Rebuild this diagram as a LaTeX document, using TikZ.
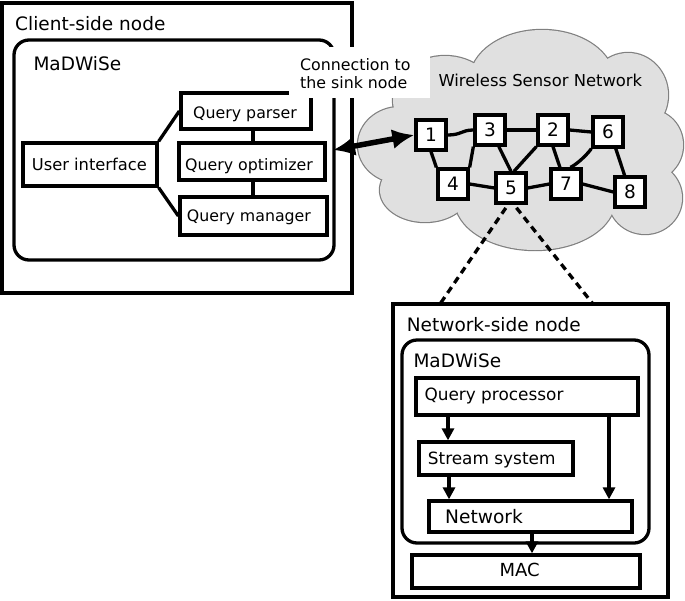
\documentclass[tikz,border=0pt]{standalone}
\usepackage{fontspec}
\setmainfont{DejaVu Sans}
\usetikzlibrary{arrows.meta}
\newcommand\fonthd{\fontsize{18.5}{22}\selectfont}
\newcommand\fontbx{\fontsize{15.8}{19}\selectfont}
\newcommand\fontui{\fontsize{16.3}{19}\selectfont}
\newcommand\fontnb{\fontsize{16.9}{20}\selectfont}
\newcommand\fontnw{\fontsize{18.6}{22}\selectfont}
\newcommand\fontmac{\fontsize{18}{22}\selectfont}
\newcommand\fontnum{\fontsize{18.5}{21}\selectfont}
\newcommand\fontcl{\fontsize{16.4}{19}\selectfont}
\definecolor{cloudfill}{RGB}{224,224,224}
\definecolor{cloudline}{RGB}{128,128,128}
\begin{document}
\begin{tikzpicture}[x=1pt,y=-1pt,
  frame/.style={draw, line width=3.3pt, inner sep=0pt},
  roundframe/.style={draw, line width=3.3pt, rounded corners=15pt, inner sep=0pt},
  modbox/.style={draw, fill=white, line width=3.3pt, inner sep=0pt},
  txt/.style={anchor=base west, inner sep=0pt, font=\fontbx},
  heading/.style={anchor=base west, inner sep=0pt, font=\fonthd},
  nnode/.style={draw, fill=white, line width=3.3pt, minimum size=30pt, inner sep=0pt, font=\fontnum},
  link/.style={line width=3.3pt},
  arr/.style={line width=3.3pt, -{Triangle[length=12pt,width=12pt]}},
  dbl/.style={line width=5.5pt, {Latex[length=22pt,width=20pt]}-{Latex[length=22pt,width=20pt]}},
  dashlink/.style={line width=3.3pt, dash pattern=on 7pt off 5pt},
  bump/.style={draw=cloudline, line width=2.4pt},
  bumpfill/.style={fill=cloudfill}
]
\useasboundingbox (0,0) rectangle (685,600);

% ---------- Client-side node ----------
\node[frame, minimum width=350pt, minimum height=290pt] (cs) at (177,148) {};
\node[heading] (cst) at (15,30) {Client-side node};
\node[roundframe, minimum width=320pt, minimum height=220pt] (csm) at (174,150) {};
\node[heading] (csmt) at (33.3,70) {MaDWiSe};

\node[modbox, minimum width=130pt, minimum height=36pt] (qp) at (246,111) {};
\node[modbox, minimum width=146pt, minimum height=37pt] (qo) at (252,161.5) {};
\node[modbox, minimum width=147pt, minimum height=38pt] (qm) at (253.5,216) {};
\node[modbox, minimum width=134pt, minimum height=43pt] (ui) at (90,164.5) {};
\node[txt] (qpt) at (193,118.3) {Query parser};
\node[txt] (qot) at (185,170) {Query optimizer};
\node[txt] (qmt) at (186.7,221.7) {Query manager};
\node[txt, font=\fontui] (uit) at (31.7,170.7) {User interface};

\draw[link] (ui.north east) -- (qp.west);
\draw[link] (ui.south east) -- (qm.west);
\draw[link] ([xshift=1pt]qo.north) -- ([xshift=1pt]qo.north |- qp.south);
\draw[link] ([xshift=1pt]qo.south) -- ([xshift=1pt]qo.south |- qm.north);

% ---------- Cloud ----------
\foreach \cx/\cy/\rx/\ry in {400/145/42/38, 425/190/45/32, 535/200/80/50, 645/198/37/36, 650/145/33/35, 628/95/40/42, 542/80/72/50, 445/100/52/44, 530/150/120/70}
  \draw[bump] (\cx,\cy) ellipse [x radius=\rx pt, y radius=\ry pt];
\foreach \cx/\cy/\rx/\ry in {400/145/42/38, 425/190/45/32, 535/200/80/50, 645/198/37/36, 650/145/33/35, 628/95/40/42, 542/80/72/50, 445/100/52/44, 530/150/120/70}
  \fill[bumpfill] (\cx,\cy) ellipse [x radius=\rx pt, y radius=\ry pt];
\node[anchor=base west, inner sep=0pt, font=\fontcl] (wsn) at (438.3,86.7) {Wireless Sensor Network};

% ---------- Sensor nodes ----------
\node[nnode] (n1) at (431,135) {1};
\node[nnode] (n3) at (490,130) {3};
\node[nnode] (n2) at (553,130) {2};
\node[nnode] (n6) at (608,132) {6};
\node[nnode] (n4) at (453,184) {4};
\node[nnode] (n5) at (511,188) {5};
\node[nnode] (n7) at (566,184) {7};
\node[nnode] (n8) at (630,192) {8};

\draw[link] (n1.east) .. controls +(14,0) and +(-12,0) .. (n3.west);
\draw[link] (n1.south) -- (n4.north west);
\draw[link] (n3.south west) -- (n4.north east);
\draw[link] (n3.-62) -- (n5.north);
\draw[link] (n3.east) -- (n2.west);
\draw[link] (n2.south west) -- (n5.80);
\draw[link] (n2.south) -- (n7.110);
\draw[link] (n2.east) -- (n6.west);
\draw[link] (n6.south west) .. controls +(-6,8) and +(6,-3) .. (n7.75);
\draw[link] (n6.-65) -- (n8.108);
\draw[link] (n4.east) -- (n5.west);
\draw[link] (n5.east) -- (n7.west);
\draw[link] (n7.east) -- (n8.west);

% ---------- Label over the link ----------
\node[fill=white, minimum width=141pt, minimum height=51pt, inner sep=0pt, anchor=north west] (lblbg) at (289,47) {};
\node[txt] (lbl1) at (300,70) {Connection to};
\node[txt] (lbl2) at (300,88.3) {the sink node};

\coordinate (sink) at (333,150);
\draw[dbl] (sink) -- (n1.west);

% ---------- Network-side node ----------
\coordinate (dl) at (440,304);
\coordinate (dr) at (593,304);
\draw[dashlink, shorten <=4pt] (n5.-100) -- (dl);
\draw[dashlink, shorten <=4pt] (n5.-80) -- (dr);

\node[frame, fill=white, minimum width=275pt, minimum height=293pt] (ns) at (530.5,450.5) {};
\node[heading] (nst) at (406.7,331.7) {Network-side node};
\node[roundframe, minimum width=247pt, minimum height=203pt] (nsm) at (525.5,441.5) {};
\node[heading] (nsmt) at (413.3,367.3) {MaDWiSe};

\node[modbox, minimum width=222pt, minimum height=37pt] (qpr) at (527,396.5) {};
\node[modbox, minimum width=154pt, minimum height=33pt] (ss) at (496,458.5) {};
\node[modbox, minimum width=203pt, minimum height=31pt] (nw) at (530.5,516.5) {};
\node[modbox, minimum width=228pt, minimum height=33pt] (mac) at (526,571.5) {};
\node[txt, font=\fontnb] (qprt) at (424.3,400) {Query processor};
\node[txt, font=\fontnb] (sst) at (427.7,464) {Stream system};
\node[txt, font=\fontnw] (nwt) at (445,523.3) {Network};
\node[txt, font=\fontmac] (mact) at (499.3,576.7) {MAC};

\draw[arr] ([xshift=-79pt]qpr.south) -- ([xshift=-79pt]qpr.south |- ss.north);
\draw[arr] ([xshift=82pt]qpr.south) -- ([xshift=82pt]qpr.south |- nw.north);
\draw[arr] ([xshift=-47pt]ss.south) -- ([xshift=-47pt]ss.south |- nw.north);
\draw[arr] ([xshift=1.5pt]nw.south) -- ([xshift=1.5pt]nw.south |- mac.north);
\end{tikzpicture}
\end{document}
